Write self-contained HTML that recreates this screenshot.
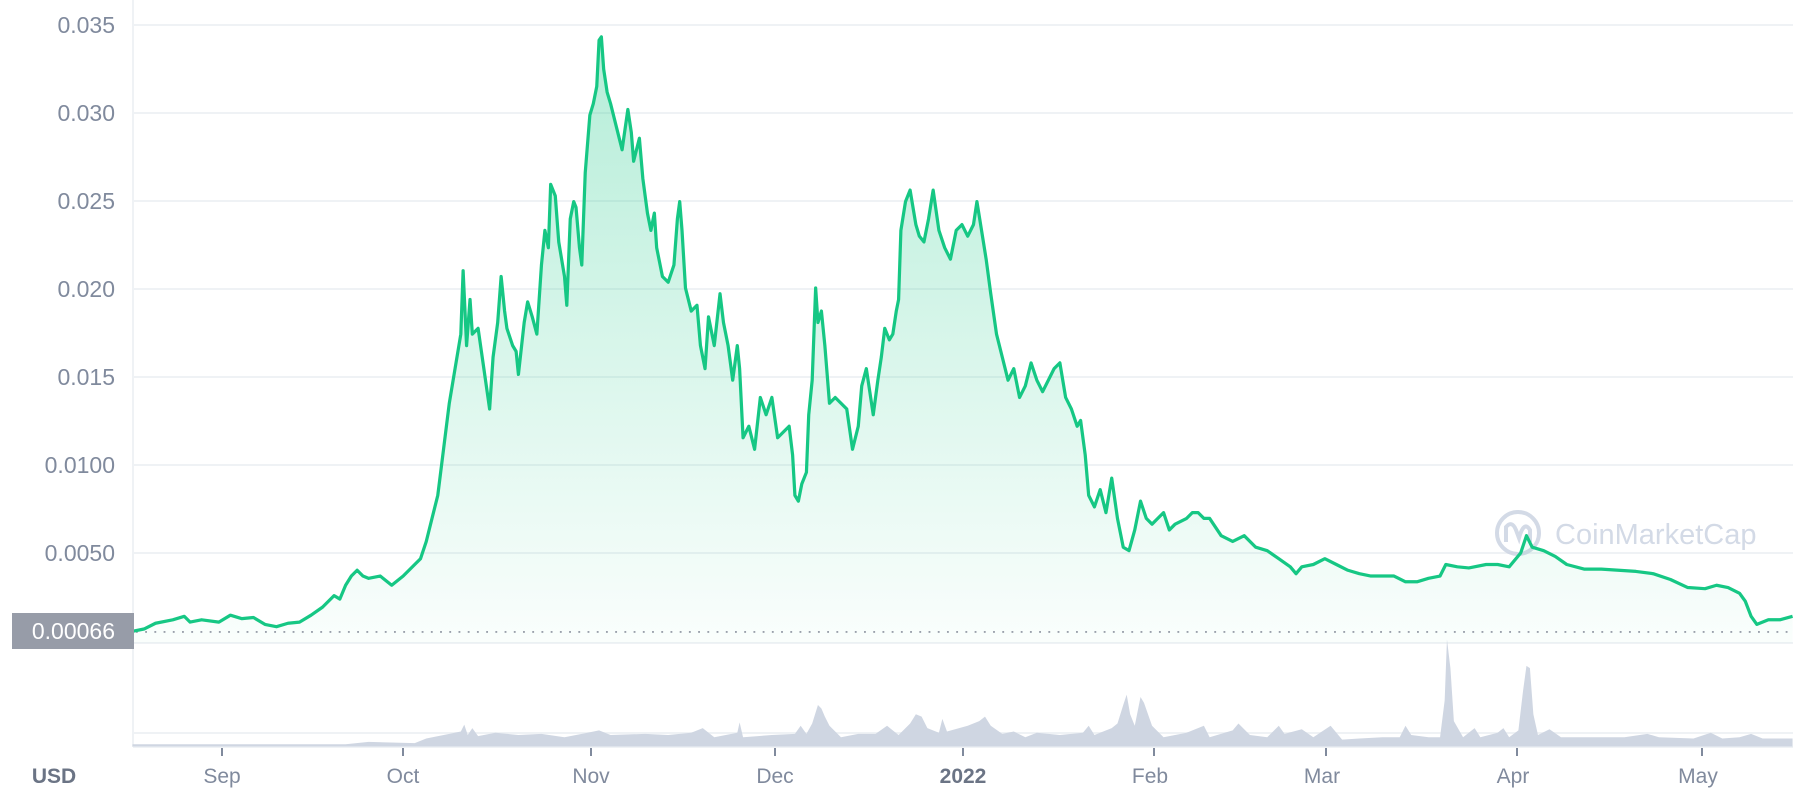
<!DOCTYPE html>
<html><head><meta charset="utf-8"><style>
html,body{margin:0;padding:0;background:#fff;}
svg{display:block;font-family:"Liberation Sans",sans-serif;}
</style></head><body>
<svg width="1806" height="798" viewBox="0 0 1806 798" xmlns="http://www.w3.org/2000/svg">
<defs>
<linearGradient id="g" x1="0" y1="0" x2="0" y2="1">
<stop offset="0" stop-color="#16c784" stop-opacity="0.32"/>
<stop offset="1" stop-color="#16c784" stop-opacity="0.02"/>
</linearGradient>
</defs>
<g stroke="#eff2f5" stroke-width="2">
<line x1="133" y1="25" x2="1793" y2="25"/>
<line x1="133" y1="113" x2="1793" y2="113"/>
<line x1="133" y1="201" x2="1793" y2="201"/>
<line x1="133" y1="289" x2="1793" y2="289"/>
<line x1="133" y1="377" x2="1793" y2="377"/>
<line x1="133" y1="465" x2="1793" y2="465"/>
<line x1="133" y1="553" x2="1793" y2="553"/>
<line x1="133" y1="643" x2="1793" y2="643"/>
<line x1="133" y1="733" x2="1793" y2="733"/>
<line x1="133" y1="747" x2="1793" y2="747"/>
<line x1="133" y1="0" x2="133" y2="747"/>
</g>
<g fill="#808a9d" font-size="23" text-anchor="end">
<text x="115" y="33">0.035</text>
<text x="115" y="121">0.030</text>
<text x="115" y="209">0.025</text>
<text x="115" y="297">0.020</text>
<text x="115" y="385">0.015</text>
<text x="115" y="473">0.0100</text>
<text x="115" y="561">0.0050</text>
</g>
<g opacity="0.9">
<circle cx="1518" cy="533" r="21" fill="none" stroke="#cfd6e4" stroke-width="4"/>
<path d="M1506 542 L1506 527 Q1512 520 1516 530 L1519 538 Q1524 520 1530 530 L1530 542" fill="none" stroke="#cfd6e4" stroke-width="4"/>
<text x="1555" y="544" font-size="29" fill="#cfd6e4">CoinMarketCap</text>
</g>
<g transform="scale(1.15204)">
<path fill="#cfd6e2" d="M115 648 L115 646 L300 646 L320 644 L360 645 L370 641 L390 637 L400 635 L403 629 L406 638 L410 632 L415 639 L430 636 L450 638 L470 637 L490 640 L510 636 L520 634 L530 638 L560 637 L580 638 L600 636 L610 632 L620 640 L640 636 L642 627 L645 640 L670 638 L690 637 L695 630 L700 637 L705 628 L710 612 L713 615 L716 622 L720 630 L730 640 L745 637 L760 637 L770 630 L780 638 L790 628 L795 620 L800 622 L805 632 L815 636 L818 624 L822 635 L840 630 L850 626 L855 622 L860 630 L870 637 L880 635 L890 640 L900 636 L920 638 L940 636 L945 630 L950 638 L965 632 L970 628 L975 612 L978 603 L981 620 L985 630 L990 605 L993 610 L1000 630 L1010 640 L1030 636 L1045 630 L1050 640 L1070 634 L1075 628 L1085 638 L1100 640 L1110 630 L1115 637 L1130 633 L1140 640 L1155 630 L1165 642 L1180 641 L1200 640 L1215 640 L1220 630 L1225 638 L1240 640 L1250 640 L1254 608 L1256 555 L1259 580 L1262 626 L1270 640 L1280 632 L1285 640 L1300 636 L1305 632 L1310 640 L1318 634 L1322 600 L1325 578 L1328 580 L1331 620 L1335 638 L1345 633 L1355 640 L1380 640 L1410 640 L1430 637 L1440 640 L1470 641 L1485 636 L1495 641 L1510 640 L1520 637 L1530 641 L1556 641 L1556 648 Z"/>
<path fill="url(#g)" d="M115 558 L115 548 L125 546 L135 541 L150 538 L160 535 L165 540 L175 538 L190 540 L200 534 L210 537 L220 536 L230 542 L240 544 L250 541 L260 540 L270 534 L280 527 L290 517 L295 520 L300 508 L305 500 L310 495 L315 500 L320 502 L330 500 L340 508 L350 500 L355 495 L360 490 L365 485 L370 470 L375 450 L380 430 L385 390 L390 350 L395 320 L400 290 L402 235 L405 300 L408 260 L410 290 L415 285 L420 320 L425 355 L428 310 L432 280 L435 240 L438 270 L440 285 L445 300 L448 305 L450 325 L455 280 L458 262 L462 275 L466 290 L470 230 L473 200 L476 215 L478 160 L482 170 L485 210 L490 240 L492 265 L495 190 L498 175 L500 180 L503 215 L505 230 L508 150 L512 100 L515 90 L518 75 L520 35 L522 32 L524 60 L527 80 L530 90 L535 110 L540 130 L545 95 L548 115 L550 140 L555 120 L558 155 L562 185 L565 200 L568 185 L570 215 L575 240 L580 245 L585 230 L588 190 L590 175 L592 200 L595 250 L600 270 L605 265 L608 300 L612 320 L615 275 L620 300 L625 255 L628 280 L632 300 L636 330 L640 300 L642 320 L645 380 L650 370 L655 390 L660 345 L665 360 L670 345 L675 380 L680 375 L685 370 L688 395 L690 430 L693 435 L696 420 L700 410 L702 360 L705 330 L708 250 L710 280 L713 270 L716 300 L720 350 L725 345 L730 350 L735 355 L740 390 L745 370 L748 335 L752 320 L755 340 L758 360 L762 330 L765 310 L768 285 L772 295 L775 290 L778 270 L780 260 L782 200 L786 175 L790 165 L795 195 L798 205 L802 210 L806 190 L810 165 L815 200 L820 215 L825 225 L830 200 L835 195 L840 205 L845 195 L848 175 L852 200 L856 225 L860 255 L865 290 L870 310 L875 330 L880 320 L885 345 L890 335 L895 315 L900 330 L905 340 L910 330 L915 320 L920 315 L925 345 L930 355 L935 370 L938 365 L942 395 L945 430 L950 440 L955 425 L960 445 L965 415 L970 450 L975 475 L980 478 L985 460 L990 435 L995 450 L1000 455 L1005 450 L1010 445 L1015 460 L1020 455 L1030 450 L1035 445 L1040 445 L1045 450 L1050 450 L1060 465 L1070 470 L1080 465 L1090 475 L1100 478 L1110 485 L1120 492 L1125 498 L1130 492 L1140 490 L1150 485 L1160 490 L1170 495 L1180 498 L1190 500 L1200 500 L1210 500 L1220 505 L1230 505 L1240 502 L1250 500 L1255 490 L1265 492 L1275 493 L1290 490 L1300 490 L1310 492 L1320 480 L1325 465 L1330 475 L1340 478 L1350 483 L1360 490 L1375 494 L1390 494 L1405 495 L1420 496 L1435 498 L1450 503 L1465 510 L1480 511 L1490 508 L1500 510 L1510 515 L1515 522 L1520 535 L1525 542 L1535 538 L1545 538 L1556 535 L1556 558 Z"/>
<line x1="118" y1="548.5" x2="1556" y2="548.5" stroke="#9aa0ab" stroke-width="1.6" stroke-dasharray="1.6 6.4"/>
<path fill="none" stroke="#16c784" stroke-width="2.8" stroke-linejoin="round" d="M115 548 L125 546 L135 541 L150 538 L160 535 L165 540 L175 538 L190 540 L200 534 L210 537 L220 536 L230 542 L240 544 L250 541 L260 540 L270 534 L280 527 L290 517 L295 520 L300 508 L305 500 L310 495 L315 500 L320 502 L330 500 L340 508 L350 500 L355 495 L360 490 L365 485 L370 470 L375 450 L380 430 L385 390 L390 350 L395 320 L400 290 L402 235 L405 300 L408 260 L410 290 L415 285 L420 320 L425 355 L428 310 L432 280 L435 240 L438 270 L440 285 L445 300 L448 305 L450 325 L455 280 L458 262 L462 275 L466 290 L470 230 L473 200 L476 215 L478 160 L482 170 L485 210 L490 240 L492 265 L495 190 L498 175 L500 180 L503 215 L505 230 L508 150 L512 100 L515 90 L518 75 L520 35 L522 32 L524 60 L527 80 L530 90 L535 110 L540 130 L545 95 L548 115 L550 140 L555 120 L558 155 L562 185 L565 200 L568 185 L570 215 L575 240 L580 245 L585 230 L588 190 L590 175 L592 200 L595 250 L600 270 L605 265 L608 300 L612 320 L615 275 L620 300 L625 255 L628 280 L632 300 L636 330 L640 300 L642 320 L645 380 L650 370 L655 390 L660 345 L665 360 L670 345 L675 380 L680 375 L685 370 L688 395 L690 430 L693 435 L696 420 L700 410 L702 360 L705 330 L708 250 L710 280 L713 270 L716 300 L720 350 L725 345 L730 350 L735 355 L740 390 L745 370 L748 335 L752 320 L755 340 L758 360 L762 330 L765 310 L768 285 L772 295 L775 290 L778 270 L780 260 L782 200 L786 175 L790 165 L795 195 L798 205 L802 210 L806 190 L810 165 L815 200 L820 215 L825 225 L830 200 L835 195 L840 205 L845 195 L848 175 L852 200 L856 225 L860 255 L865 290 L870 310 L875 330 L880 320 L885 345 L890 335 L895 315 L900 330 L905 340 L910 330 L915 320 L920 315 L925 345 L930 355 L935 370 L938 365 L942 395 L945 430 L950 440 L955 425 L960 445 L965 415 L970 450 L975 475 L980 478 L985 460 L990 435 L995 450 L1000 455 L1005 450 L1010 445 L1015 460 L1020 455 L1030 450 L1035 445 L1040 445 L1045 450 L1050 450 L1060 465 L1070 470 L1080 465 L1090 475 L1100 478 L1110 485 L1120 492 L1125 498 L1130 492 L1140 490 L1150 485 L1160 490 L1170 495 L1180 498 L1190 500 L1200 500 L1210 500 L1220 505 L1230 505 L1240 502 L1250 500 L1255 490 L1265 492 L1275 493 L1290 490 L1300 490 L1310 492 L1320 480 L1325 465 L1330 475 L1340 478 L1350 483 L1360 490 L1375 494 L1390 494 L1405 495 L1420 496 L1435 498 L1450 503 L1465 510 L1480 511 L1490 508 L1500 510 L1510 515 L1515 522 L1520 535 L1525 542 L1535 538 L1545 538 L1556 535"/>
</g>
<rect x="12" y="613" width="122" height="36" fill="#979ca8"/>
<text x="115" y="639" font-size="23" fill="#fff" text-anchor="end">0.00066</text>
<g stroke="#808a9d" stroke-width="2">
<line x1="222" y1="748" x2="222" y2="756"/><line x1="403" y1="748" x2="403" y2="756"/>
<line x1="591" y1="748" x2="591" y2="756"/><line x1="775" y1="748" x2="775" y2="756"/>
<line x1="963" y1="748" x2="963" y2="756"/><line x1="1154" y1="748" x2="1154" y2="756"/>
<line x1="1326" y1="748" x2="1326" y2="756"/><line x1="1517" y1="748" x2="1517" y2="756"/>
<line x1="1702" y1="748" x2="1702" y2="756"/>
</g>
<g fill="#808a9d" font-size="21" text-anchor="middle">
<text x="54" y="783" font-weight="bold" fill="#6b7485">USD</text>
<text x="222" y="783">Sep</text>
<text x="403" y="783">Oct</text>
<text x="591" y="783">Nov</text>
<text x="775" y="783">Dec</text>
<text x="963" y="783" font-weight="bold" fill="#6b7485">2022</text>
<text x="1150" y="783">Feb</text>
<text x="1322" y="783">Mar</text>
<text x="1513" y="783">Apr</text>
<text x="1698" y="783">May</text>
</g>
</svg>
</body></html>
